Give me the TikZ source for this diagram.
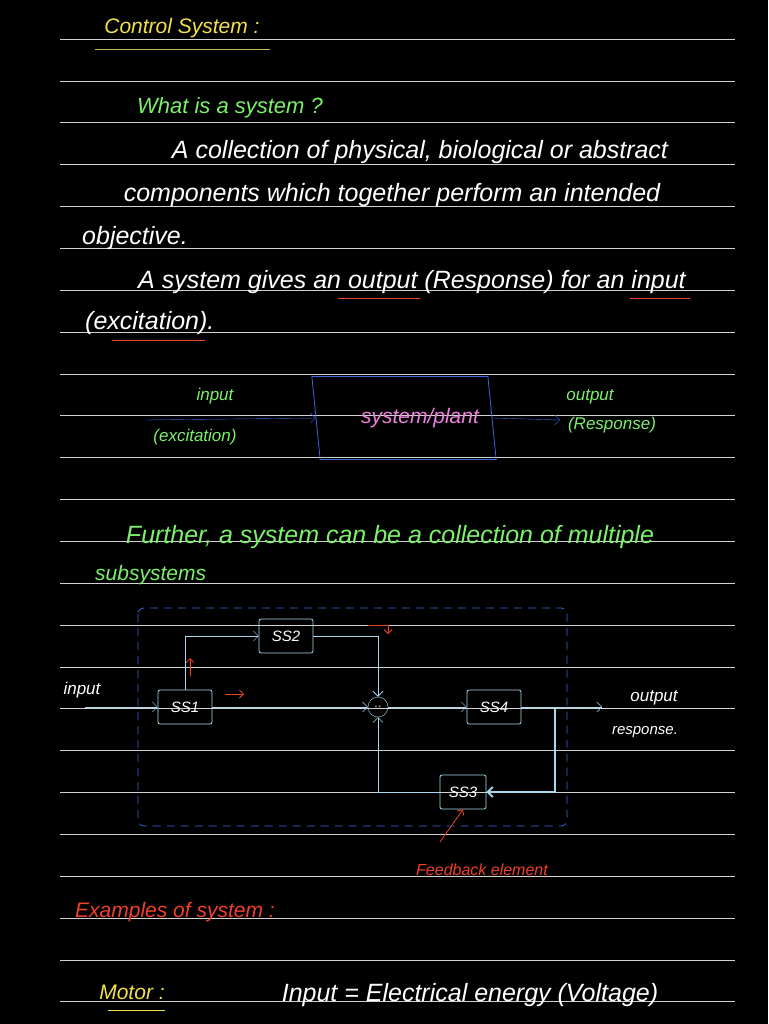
\documentclass[tikz,border=0pt]{standalone}
\usepackage{fontspec}
\setmainfont{Liberation Sans}
\usetikzlibrary{arrows.meta}
\definecolor{yel}{HTML}{F2E14A}
\definecolor{grn}{HTML}{7CF06A}
\definecolor{rd}{HTML}{F0402A}
\definecolor{bl}{HTML}{3A6BE0}
\definecolor{lb}{HTML}{A8D8F0}
\definecolor{pk}{HTML}{F080E0}
\begin{document}
\begin{tikzpicture}[x=1pt,y=-1pt,
  txt/.style={font=\itshape\fontsize{25}{27}\selectfont,inner sep=0pt},
  wt/.style={txt,white},
  gt/.style={txt,grn},
  sbox/.style={draw=lb,thick,rounded corners=2pt,minimum width=54pt,minimum height=34pt,font=\itshape\fontsize{15}{17}\selectfont,text=white},
  con/.style={lb,thin,-{Straight Barb[length=5pt]}},
  ra/.style={rd,thick,-{Straight Barb[length=4pt]}}]
\fill[black] (0,0) rectangle (768,1024);
\useasboundingbox (0,0) rectangle (768,1024);
\foreach \i in {0,...,23} \draw[gray!35,thin] (60,{39+41.85*\i}) -- (735,{39+41.85*\i});
\node[txt,yel,font=\itshape\fontsize{21}{23}\selectfont] (t1) at (182,28) {Control System :};
\draw[yel!60!gray,thin] (95,49) -- (270,49);
\node[gt,font=\itshape\fontsize{22}{24}\selectfont] (t2) at (230,108) {What is a system ?};
\node[wt] (t3) at (420,152) {A collection of physical, biological or abstract};
\node[wt] (t4) at (392,195) {components which together perform an intended};
\node[wt,anchor=west] (t5) at (82,238) {objective.};
\node[wt] (t6) at (412,282) {A system gives an output (Response) for an input};
\draw[rd,thick] (338,298) -- (420,298) (630,298) -- (690,298);
\node[wt,anchor=west] (t7) at (85,323) {(excitation).};
\draw[rd,thick] (112,340) -- (205,340);
% block
\node[draw=bl,thick,minimum width=176pt,minimum height=83pt,xslant=-0.1] (sp) at (404,418) {};
\node[txt,pk,font=\itshape\fontsize{21}{23}\selectfont] (spt) at (420,418) {system/plant};
\coordinate (in0) at (145,420);
\draw[con,bl] (in0) -- (sp.west);
\coordinate (out0) at (560,420);
\draw[con,bl] (sp.east) -- (out0);
\node[gt,font=\itshape\fontsize{17}{19}\selectfont] (i1) at (215,396) {input};
\node[gt,font=\itshape\fontsize{17}{19}\selectfont] (i2) at (195,437) {(excitation)};
\node[gt,font=\itshape\fontsize{17}{19}\selectfont] (o1) at (590,397) {output};
\node[gt,font=\itshape\fontsize{17}{19}\selectfont] (o2) at (612,425) {(Response)};
\node[gt] (t8) at (390,537) {Further, a system can be a collection of multiple};
\node[gt,anchor=west,font=\itshape\fontsize{21}{23}\selectfont] (t9) at (95,575) {subsystems};
% subsystems
\draw[bl,thick,dashed,dash pattern=on 8pt off 6pt,rounded corners=6pt] (138,608) rectangle (567,826);
\node[sbox] (ss2) at (286,636) {SS2};
\node[sbox] (ss1) at (185,707) {SS1};
\node[draw=lb,thin,circle,minimum size=20pt,inner sep=0pt,font=\tiny,text=white] (sum) at (378,707) {+\,+};
\node[sbox] (ss4) at (494,707) {SS4};
\node[sbox,minimum width=46pt] (ss3) at (463,792) {SS3};
\coordinate (inL) at (85,707);
\coordinate (outR) at (602,707);
\coordinate (br) at (555,707);
\draw[con] (inL) -- (ss1);
\draw[con] (ss1) -- (sum);
\draw[con] (ss1.north) |- (ss2.west);
\draw[con,thick] (ss2.east) -| (sum.north);
\draw[con] (sum) -- (ss4);
\draw[con] (ss4) -- (outR);
\draw[con,line width=2pt] (br) |- (ss3.east);
\draw[con] (ss3.west) -| (sum.south);
\node[txt,white,font=\itshape\fontsize{17}{19}\selectfont] (inp) at (82,690) {input};
\node[txt,white,font=\itshape\fontsize{17}{19}\selectfont] (op1) at (654,698) {output};
\node[txt,white,font=\itshape\fontsize{15}{17}\selectfont] (op2) at (645,732) {response.};
\draw[ra] (190,676) -- (190,658);
\draw[ra] (225,694) -- (244,694);
\draw[rd,thick,-{Straight Barb[length=4pt]}] (368,625) -- (388,625) -- (388,634);
\coordinate (fb0) at (440,842);
\draw[ra] (fb0) -- (ss3.south);
\node[txt,rd,font=\itshape\fontsize{16}{18}\selectfont] (fb) at (482,870) {Feedback element};
\node[txt,rd,font=\itshape\fontsize{21}{23}\selectfont] (t10) at (175,912) {Examples of system :};
\node[txt,yel,font=\itshape\fontsize{21}{23}\selectfont] (t11) at (132,992) {Motor :};
\draw[yel,thick] (108,1010) -- (165,1010);
\node[wt] (t12) at (470,995) {Input = Electrical energy (Voltage)};
\end{tikzpicture}
\end{document}
